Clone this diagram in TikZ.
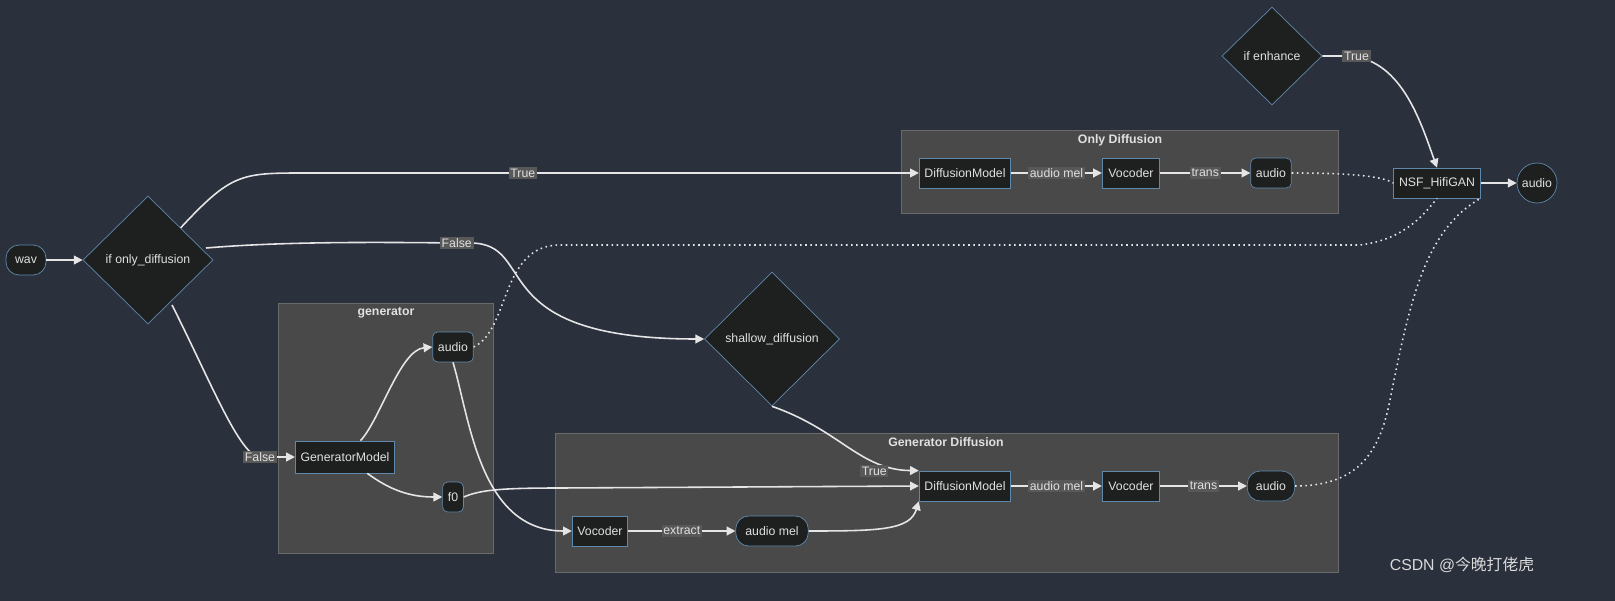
\documentclass[tikz,border=0pt]{standalone}
\usepackage{fontspec}
\setmainfont{Liberation Sans}
\newfontfamily\cjkfont{Noto Sans CJK SC}
\usetikzlibrary{shapes.geometric,arrows.meta}
\definecolor{bg}{HTML}{2B303D}
\definecolor{clfill}{HTML}{494949}
\definecolor{clline}{HTML}{6A6A6A}
\definecolor{nfill}{HTML}{1E1F1F}
\definecolor{nline}{HTML}{5F88AD}
\definecolor{txt}{HTML}{E0E0E0}
\definecolor{lbl}{HTML}{585858}
\tikzset{
  box/.style = {draw=nline, fill=nfill, text=txt, font=\scriptsize, minimum height=0.6cm, inner sep=3pt},
  pill/.style = {box, rounded corners=0.26cm},
  dia/.style = {box, diamond, aspect=1, inner sep=1pt},
  cluster/.style = {draw=clline, fill=clfill},
  ctitle/.style = {text=txt, font=\scriptsize\bfseries},
  link/.style = {draw=txt!85, line width=0.9pt, -{Triangle[length=5pt,width=5pt]}},
  dots/.style = {draw=txt!85, line width=0.9pt, dotted},
  elabel/.style = {fill=lbl, text=txt, font=\scriptsize, inner sep=1pt},
}
\begin{document}
\begin{tikzpicture}[x=0.02cm, y=-0.02cm]
	\useasboundingbox (0,0) rectangle (1615,601);
	\fill[bg] (0,0) rectangle (1615,601);
	% clusters
	\draw[cluster] (901,130) rectangle (1338,213);
	\node[ctitle] (tonly) at (1120,140) {Only Diffusion};
	\draw[cluster] (278,303) rectangle (493,553);
	\node[ctitle] (tgen) at (386,313) {generator};
	\draw[cluster] (555,433) rectangle (1338,572);
	\node[ctitle] (tgd) at (946,442) {Generator Diffusion};
	% nodes
	\node[pill, minimum width=0.8cm] (wav) at (26,260) {wav};
	\node[dia, minimum width=2.6cm, minimum height=2.56cm] (ifod) at (148,260) {if only\_diffusion};
	\node[box, minimum width=1.8cm] (dm1) at (965,173) {DiffusionModel};
	\node[box, minimum width=1.15cm] (voc1) at (1131,173) {Vocoder};
	\node[pill, rounded corners=0.1cm, minimum width=0.8cm] (aud1) at (1271,173) {audio};
	\node[box, minimum width=1.55cm] (nsf) at (1437,183) {NSF\_HifiGAN};
	\node[box, circle, minimum size=0.8cm, inner sep=1pt] (out) at (1537,183) {audio};
	\node[dia, minimum width=2cm, minimum height=1.96cm] (ifen) at (1272,56) {if enhance};
	\node[pill, rounded corners=0.1cm] (audg) at (453,347) {audio};
	\node[box, minimum width=1.9cm, minimum height=0.64cm] (gm) at (345,457) {GeneratorModel};
	\node[box, rounded corners=0.1cm, minimum height=0.6cm] (f0) at (453,497) {f0};
	\node[dia, minimum width=2.7cm, minimum height=2.68cm] (sd) at (772,339) {shallow\_diffusion};
	\node[box, minimum width=1.8cm] (dm2) at (965,486) {DiffusionModel};
	\node[box, minimum width=1.15cm] (voc2) at (1131,486) {Vocoder};
	\node[pill, minimum width=0.95cm] (aud2) at (1271,486) {audio};
	\node[box, minimum width=1.1cm] (voc3) at (600,531) {Vocoder};
	\node[pill, minimum width=1.45cm] (mel) at (772,531) {audio mel};
	% edges
	\draw[link] (wav) -- (ifod);
	\draw[link] (ifod.north east) .. controls (230,175) and (240,173) .. (300,173) -- node[elabel, pos=0.36] {True} (dm1.west);
	\draw[link] (dm1) -- node[elabel] {audio mel} (voc1);
	\draw[link] (voc1) -- node[elabel] {trans} (aud1);
	\draw[dots] (aud1) .. controls (1340,173) and (1380,175) .. (nsf.west);
	\draw[link] (ifen.east) -- (1345,56) node[elabel, right=-2pt] {True} .. controls (1400,56) and (1420,120) .. (nsf.north);
	\draw[link] (nsf) -- (out);
	\draw[link] (206,248) .. controls (300,240) and (420,243) .. node[elabel, pos=0.92] {False} (470,243) .. controls (540,243) and (480,339) .. (sd.west);
	\draw[link] (172,305) .. controls (210,380) and (240,457) .. node[elabel, pos=1] {False} (260,457) -- (gm.west);
	\draw[link] (gm) .. controls (380,420) and (400,350) .. (audg.west);
	\draw[link] (gm) .. controls (390,490) and (410,497) .. (f0.west);
	\draw[dots] (audg.east) .. controls (510,330) and (500,245) .. (560,245) -- (1360,245) .. controls (1400,240) and (1420,220) .. (nsf.south);
	\draw[link] (audg.south) .. controls (470,420) and (480,531) .. (voc3.west);
	\draw[link] (voc3) -- node[elabel] {extract} (mel);
	\draw[link] (mel.east) .. controls (880,531) and (910,530) .. (dm2.south west);
	\draw[link] (f0.east) .. controls (480,490) and (500,488) .. (560,488) -- (dm2.west);
	\draw[link] (sd.south) .. controls (840,430) and (860,470) .. node[elabel, pos=0.8, below left=-1pt] {True} (dm2.north west);
	\draw[link] (dm2) -- node[elabel] {audio mel} (voc2);
	\draw[link] (voc2) -- node[elabel] {trans} (aud2);
	\draw[dots] (aud2.east) .. controls (1360,486) and (1380,450) .. (1390,400) .. controls (1410,300) and (1425,230) .. (nsf.south east);
	\node[text=white!85!black, font=\small] (mark) at (1462,565) {CSDN @{\cjkfont 今晚打佬虎}};
\end{tikzpicture}
\end{document}
